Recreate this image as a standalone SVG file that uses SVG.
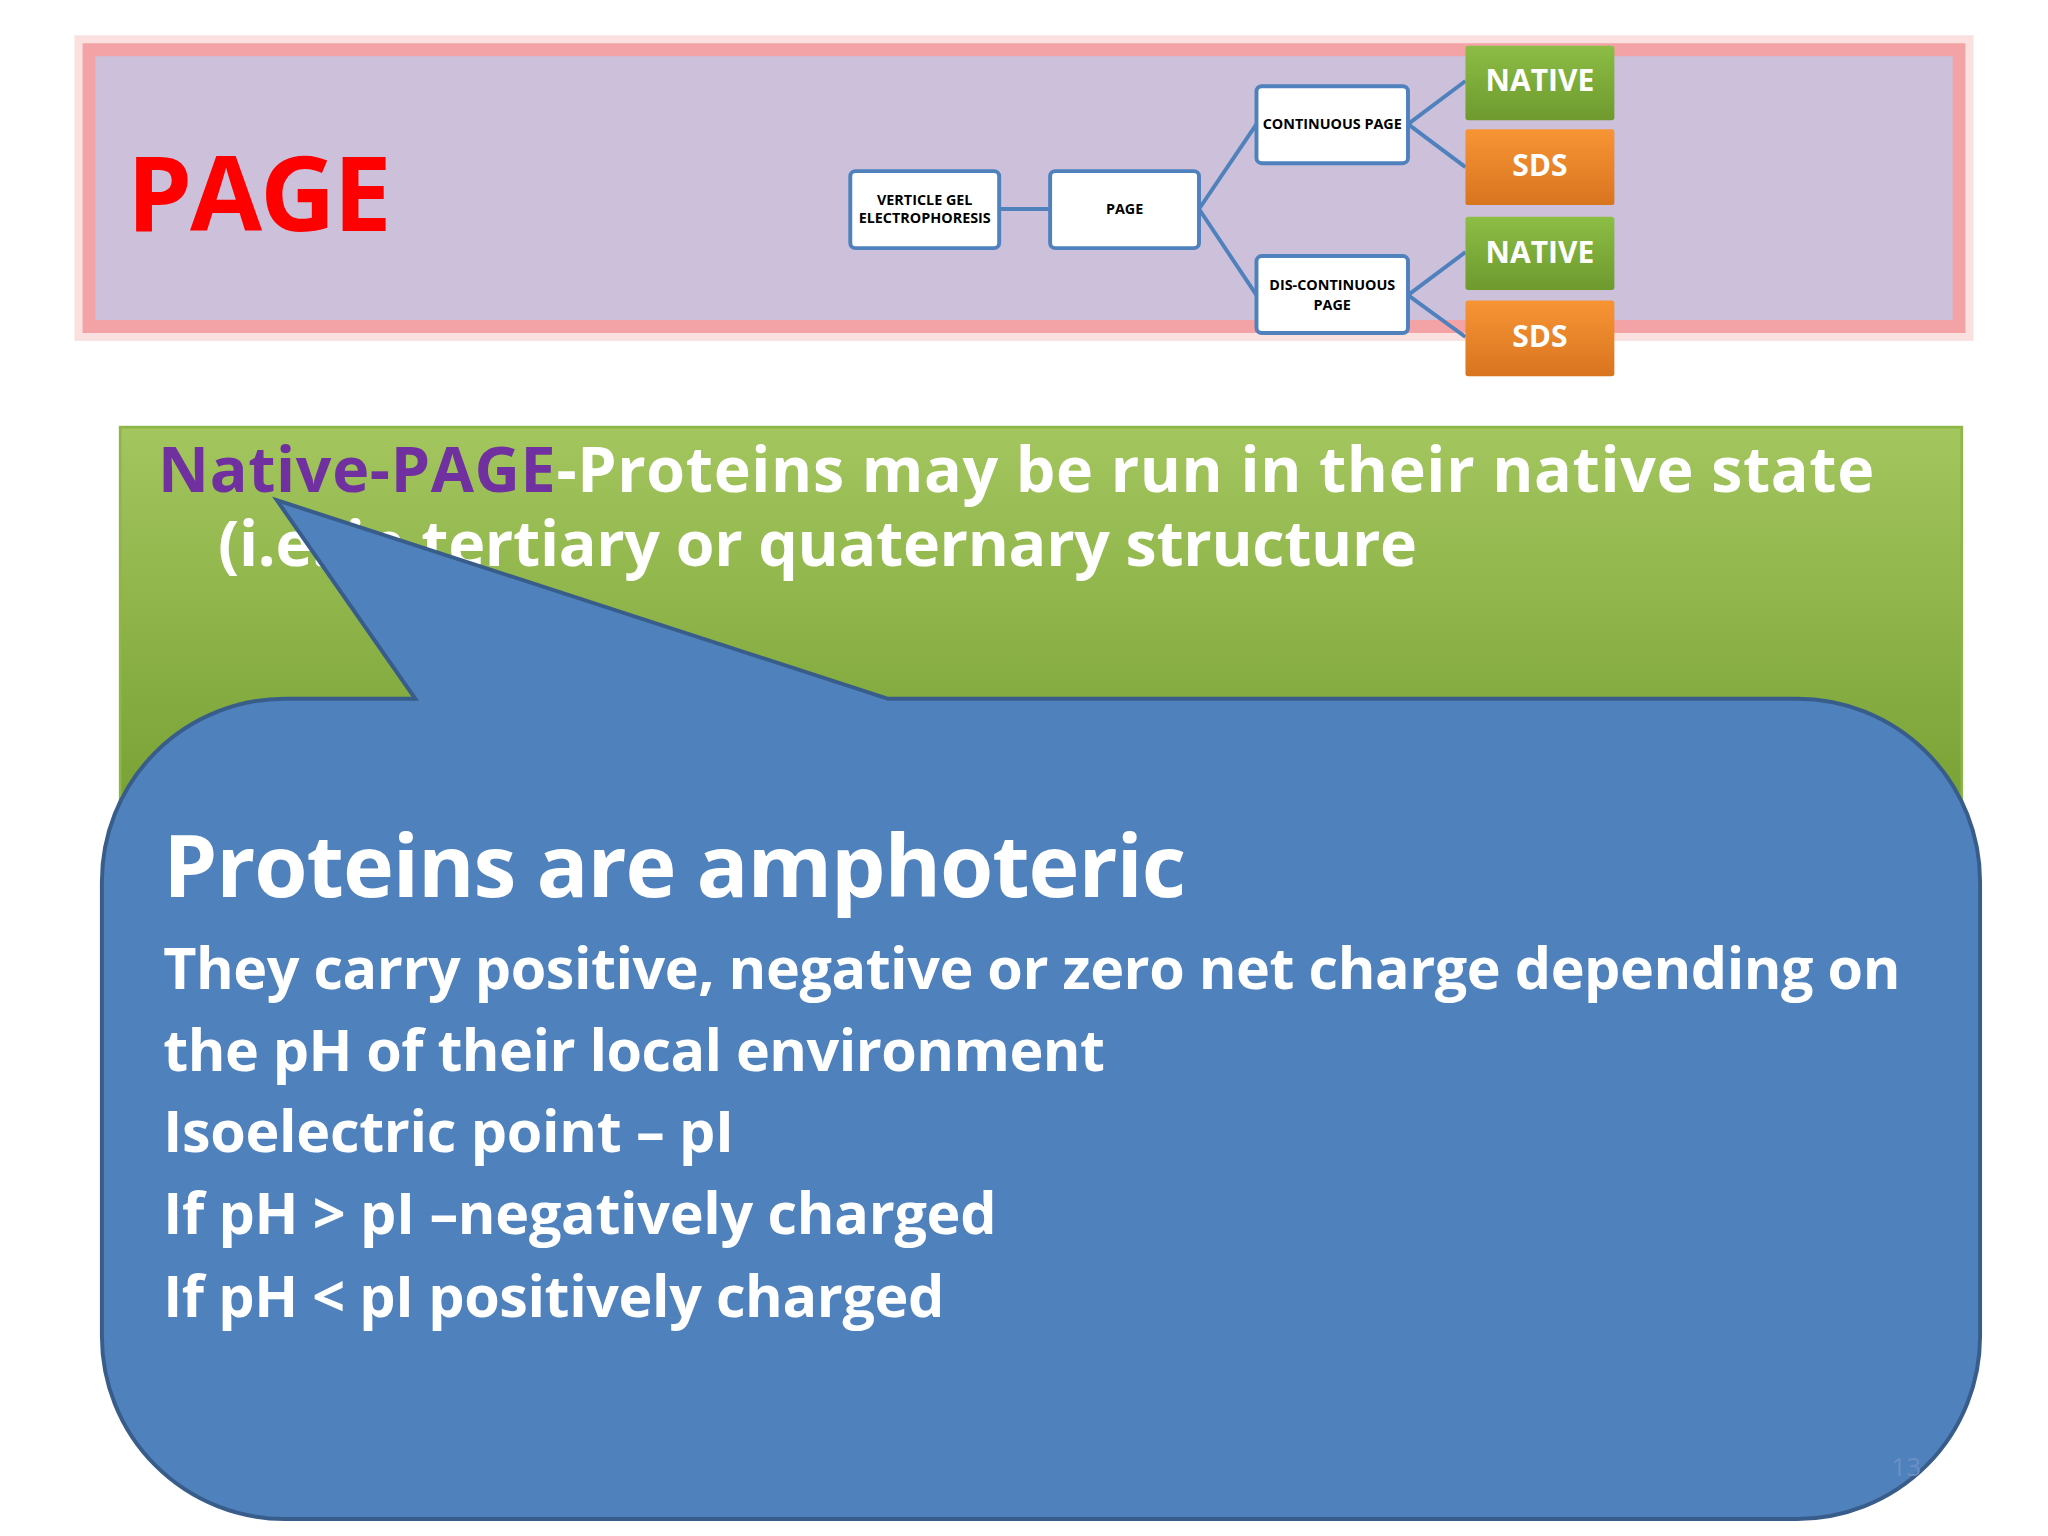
<svg xmlns="http://www.w3.org/2000/svg" width="2048" height="1536" viewBox="0 0 2048 1536">
<defs>
<linearGradient id="gG" x1="0" y1="0" x2="0" y2="1"><stop offset="0" stop-color="#a3c65e"/><stop offset="1" stop-color="#77a033"/></linearGradient>
<linearGradient id="gN" x1="0" y1="0" x2="0" y2="1"><stop offset="0" stop-color="#8cbd45"/><stop offset="1" stop-color="#6e9a2e"/></linearGradient>
<linearGradient id="gS" x1="0" y1="0" x2="0" y2="1"><stop offset="0" stop-color="#f79535"/><stop offset="1" stop-color="#d9741f"/></linearGradient>
<style>
.n{fill:#fff;stroke:#4f81bd;stroke-width:3}
.t{font-family:"Open Sans","Noto Sans",sans-serif;font-weight:bold}
.s{font-size:11px;fill:#000;text-anchor:middle}
.b{font-size:23px;fill:#fff;text-anchor:middle}
.c{stroke:#4f81bd;stroke-width:3;fill:none}
.w{fill:#fff}
</style>
</defs>
<rect width="2048" height="1536" fill="#fff"/>
<g transform="scale(1.30612)">
<rect x="68" y="38" width="1432" height="212" fill="#ccc0da" stroke="#f3a3a5" stroke-width="10"/>
<rect x="60" y="30" width="1448" height="228" fill="none" stroke="#fbe0e0" stroke-width="6"/>
<text class="t" x="97" y="177" font-size="80" fill="#ff0000" textLength="203">PAGE</text>
<g id="connectors">
<line class="c" x1="765" y1="160" x2="803" y2="160" stroke-width="5"/>
<line class="c" x1="918" y1="160" x2="962" y2="95"/>
<line class="c" x1="918" y1="160" x2="962" y2="226"/>
<line class="c" x1="1078" y1="95" x2="1122" y2="62"/>
<line class="c" x1="1078" y1="95" x2="1122" y2="128"/>
<line class="c" x1="1078" y1="226" x2="1122" y2="193"/>
<line class="c" x1="1078" y1="226" x2="1122" y2="258"/>
</g>
<g id="n1"><rect class="n" x="651" y="131" width="114" height="59" rx="4"/><text class="t s" x="708" y="157">VERTICLE GEL</text><text class="t s" x="708" y="171">ELECTROPHORESIS</text></g>
<g id="n2"><rect class="n" x="804" y="131" width="114" height="59" rx="4"/><text class="t s" x="861" y="164">PAGE</text></g>
<g id="n3"><rect class="n" x="962" y="66" width="116" height="59" rx="4"/><text class="t s" x="1020" y="99">CONTINUOUS PAGE</text></g>
<g id="n4"><rect class="n" x="962" y="196" width="116" height="59" rx="4"/><text class="t s" x="1020" y="222">DIS-CONTINUOUS</text><text class="t s" x="1020" y="237">PAGE</text></g>
<g id="n5"><rect x="1122" y="35" width="114" height="57" rx="2" fill="url(#gN)"/><text class="t b" x="1179" y="70">NATIVE</text></g>
<g id="n6"><rect x="1122" y="99" width="114" height="58" rx="2" fill="url(#gS)"/><text class="t b" x="1179" y="135">SDS</text></g>
<g id="n7"><rect x="1122" y="166" width="114" height="56" rx="2" fill="url(#gN)"/><text class="t b" x="1179" y="201">NATIVE</text></g>
<g id="n8"><rect x="1122" y="230" width="114" height="58" rx="2" fill="url(#gS)"/><text class="t b" x="1179" y="266">SDS</text></g>
<rect x="92" y="327" width="1410" height="300" fill="url(#gG)" stroke="#8db548" stroke-width="2"/>
<text class="t" x="121" y="377" font-size="48" textLength="1314"><tspan fill="#7030a0">Native-PAGE</tspan><tspan fill="#fff">-Proteins  may be run in their native state</tspan></text>
<text class="t w" x="167" y="433" font-size="48" textLength="918">(i.e. in tertiary or quaternary structure</text>
<path d="M218,535 H318 L212,383 L680,535 H1376 A140,140 0 0 1 1516,675 V1023 A140,140 0 0 1 1376,1163 H218 A140,140 0 0 1 78,1023 V675 A140,140 0 0 1 218,535 Z" fill="#4f81bd" stroke="#385d8a" stroke-width="3"/>
<text class="t w" x="125" y="687" font-size="66" textLength="783">Proteins are amphoteric</text>
<g class="t w" font-size="44">
<text x="125" y="757" textLength="1330">They carry positive, negative or zero net charge depending on</text>
<text x="125" y="820" textLength="721">the pH of their local environment</text>
<text x="125" y="882" textLength="437">Isoelectric point – pI</text>
<text x="125" y="945" textLength="638">If pH &gt; pI –negatively charged</text>
<text x="125" y="1008" textLength="598">If pH &lt; pI positively charged</text>
</g>
<text x="1448" y="1130" font-family="Open Sans,sans-serif" font-size="20" fill="#6b8fc4">13</text>
</g>
</svg>
